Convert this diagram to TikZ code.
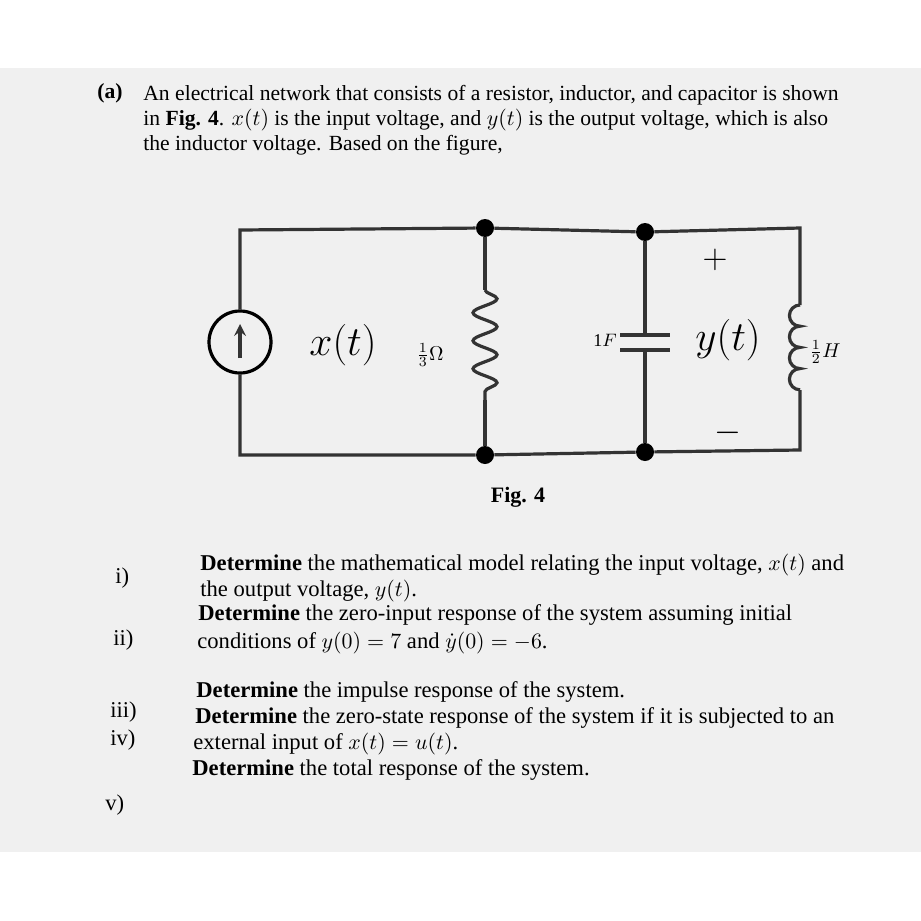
\documentclass[tikz,border=0pt]{standalone}
\usepackage{fontspec}
\setmainfont{Liberation Serif}
\usetikzlibrary{decorations.pathmorphing}
\begin{document}
\begin{tikzpicture}[x=0.5pt,y=-0.5pt,
  wire/.style={line width=1.6pt,black!80},
  dot/.style={circle,fill=black,inner sep=0pt,minimum size=9pt},
  txt/.style={anchor=west,inner sep=0pt,font=\fontsize{10.8}{12}\selectfont},
  item/.style={anchor=west,inner sep=0pt,font=\fontsize{11.3}{12}\selectfont}]
\useasboundingbox (0,0) rectangle (921,921);
\fill[white] (0,0) rectangle (921,921);
\fill[black!6] (0,68) rectangle (921,852);
% text
\node[txt] (a) at (97,93) {\textbf{(a)}};
\node[txt] (l1) at (143,95) {An electrical network that consists of a resistor, inductor, and capacitor is shown};
\node[txt] (l2) at (143,120) {in \textbf{Fig. 4}. $x(t)$ is the input voltage, and $y(t)$ is the output voltage, which is also};
\node[txt] (l3) at (143,145) {the inductor voltage. Based on the figure,};
% circuit
\coordinate (tl) at (240,230); \coordinate (bl) at (240,455);
\node[dot] (rt) at (485,228) {}; \node[dot] (rb) at (485,455) {};
\node[dot] (ct) at (645,232) {}; \node[dot] (cb) at (645,452) {};
\coordinate (tr) at (800,228); \coordinate (br) at (800,450);
\node[circle,draw,line width=1.6pt,minimum size=31pt] (src) at (240,342) {};
\draw[wire] (src.north) -- (tl) -- (rt) -- (ct) -- (tr) -- (800,305);
\draw[wire] (src.south) -- (bl) -- (rb) -- (cb) -- (br) -- (800,390);
\draw[wire,->,>=stealth] (240,358) -- (240,324);
\draw[wire] (rt) -- (485,290);
\draw[wire,decorate,decoration={snake,segment length=14pt,amplitude=6pt}] (485,290) -- (485,400);
\draw[wire] (485,400) -- (rb);
\draw[wire] (ct) -- (645,335) (620,335) -- (670,335) (620,350) -- (670,350) (645,350) -- (cb);
\draw[wire] (800,305) \foreach \i in {0,1,2,3} { arc[start angle=270,end angle=90,radius=10.6] } ;
\node (xt) at (343,345) {\fontsize{22}{24}\selectfont $x(t)$};
\node (rl) at (430,355) {\fontsize{10}{11}\selectfont $\frac{1}{3}\Omega$};
\node (cl) at (605,340) {\fontsize{9}{10}\selectfont 1$F$};
\node (pl) at (715,260) {\fontsize{16}{18}\selectfont $+$};
\node (yt) at (728,340) {\fontsize{20}{22}\selectfont $y(t)$};
\node (mi) at (728,433) {\fontsize{16}{18}\selectfont $-$};
\node (ll) at (825,352) {\fontsize{10}{11}\selectfont $\frac{1}{2}H$};
\node[font=\fontsize{11}{12}\selectfont\bfseries] (fig) at (518,497) {Fig. 4};
% items
\node[item] (i1) at (115,578) {i)};
\node[item] (t1) at (200,565) {\textbf{Determine} the mathematical model relating the input voltage, $x(t)$ and};
\node[item] (t1b) at (200,591) {the output voltage, $y(t)$.};
\node[item] (i2) at (113,640) {ii)};
\node[item] (t2) at (198,615) {\textbf{Determine} the zero-input response of the system assuming initial};
\node[item] (t2b) at (197,643) {conditions of $y(0)=7$ and $\dot y(0)=-6$.};
\node[item] (i3) at (110,712) {iii)};
\node[item] (t3) at (196,692) {\textbf{Determine} the impulse response of the system.};
\node[item] (i4) at (110,740) {iv)};
\node[item] (t4) at (195,718) {\textbf{Determine} the zero-state response of the system if it is subjected to an};
\node[item] (t4b) at (193,744) {external input of $x(t)=u(t)$.};
\node[item] (i5) at (105,805) {v)};
\node[item] (t5) at (192,770) {\textbf{Determine} the total response of the system.};
\end{tikzpicture}
\end{document}
